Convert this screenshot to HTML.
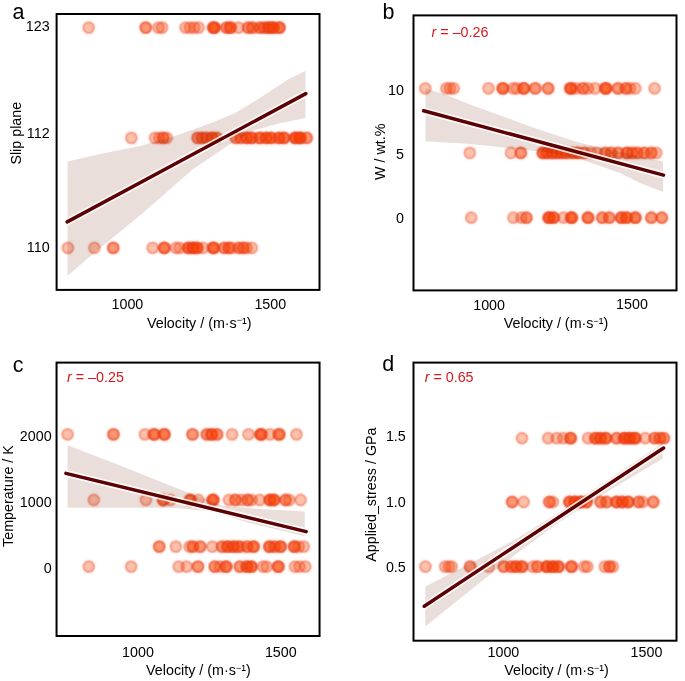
<!DOCTYPE html>
<html><head><meta charset="utf-8"><title>Velocity correlations</title>
<style>
html,body{margin:0;padding:0;background:#fff;}
body{width:685px;height:681px;overflow:hidden;}
svg{display:block;}
text{font-family:"Liberation Sans", Arial, sans-serif;fill:#000;}
.let{font-size:21.5px;}
.tk{font-size:14.3px;}
.ax{font-size:14.3px;}
.sup{font-size:9px;}
.rv{font-size:14.3px;fill:#d7191c;}
.pts circle{fill:rgb(248,66,0);fill-opacity:0.32;stroke:rgb(230,58,18);stroke-opacity:0.42;stroke-width:2.0;}
.band{fill:rgb(105,20,0);fill-opacity:0.14;stroke:none;}
.halo{stroke:#fff;stroke-opacity:0.8;stroke-width:7;stroke-linecap:round;}
.reg{stroke:#5c0003;stroke-width:3.5;stroke-linecap:round;}
.box{fill:none;stroke:#000;stroke-width:2;}
</style></head>
<body>
<svg width="685" height="681" viewBox="0 0 685 681">
<defs><filter id="bl" x="-5%" y="-50%" width="110%" height="200%"><feGaussianBlur in="SourceGraphic" stdDeviation="0.9" result="b"/><feComposite in="SourceGraphic" in2="b" operator="arithmetic" k1="0" k2="0.45" k3="0.55" k4="0"/></filter></defs>
<rect width="685" height="681" fill="#fff"/>
<g class="pts" filter="url(#bl)">
<circle cx="88.7" cy="27.6" r="5.4"/>
<circle cx="145.5" cy="27.6" r="5.4"/>
<circle cx="146.0" cy="27.6" r="5.4"/>
<circle cx="158.5" cy="27.6" r="5.4"/>
<circle cx="162.1" cy="27.6" r="5.4"/>
<circle cx="185.5" cy="27.6" r="5.4"/>
<circle cx="189.9" cy="27.6" r="5.4"/>
<circle cx="194.2" cy="27.6" r="5.4"/>
<circle cx="198.6" cy="27.6" r="5.4"/>
<circle cx="213.9" cy="27.6" r="5.4"/>
<circle cx="214.4" cy="27.6" r="5.4"/>
<circle cx="213.4" cy="27.6" r="5.4"/>
<circle cx="214.9" cy="27.6" r="5.4"/>
<circle cx="212.9" cy="27.6" r="5.4"/>
<circle cx="226.4" cy="27.6" r="5.4"/>
<circle cx="226.9" cy="27.6" r="5.4"/>
<circle cx="230.4" cy="27.6" r="5.4"/>
<circle cx="230.9" cy="27.6" r="5.4"/>
<circle cx="229.9" cy="27.6" r="5.4"/>
<circle cx="238.5" cy="27.6" r="5.4"/>
<circle cx="248.0" cy="27.6" r="5.4"/>
<circle cx="248.5" cy="27.6" r="5.4"/>
<circle cx="252.3" cy="27.6" r="5.4"/>
<circle cx="252.8" cy="27.6" r="5.4"/>
<circle cx="259.6" cy="27.6" r="5.4"/>
<circle cx="260.1" cy="27.6" r="5.4"/>
<circle cx="264.0" cy="27.6" r="5.4"/>
<circle cx="264.5" cy="27.6" r="5.4"/>
<circle cx="268.4" cy="27.6" r="5.4"/>
<circle cx="268.9" cy="27.6" r="5.4"/>
<circle cx="267.9" cy="27.6" r="5.4"/>
<circle cx="269.4" cy="27.6" r="5.4"/>
<circle cx="272.8" cy="27.6" r="5.4"/>
<circle cx="273.3" cy="27.6" r="5.4"/>
<circle cx="272.3" cy="27.6" r="5.4"/>
<circle cx="273.8" cy="27.6" r="5.4"/>
<circle cx="279.3" cy="27.6" r="5.4"/>
<circle cx="279.8" cy="27.6" r="5.4"/>
<circle cx="278.8" cy="27.6" r="5.4"/>
<circle cx="131.4" cy="137.9" r="5.4"/>
<circle cx="155.0" cy="137.9" r="5.4"/>
<circle cx="159.4" cy="137.9" r="5.4"/>
<circle cx="163.0" cy="137.9" r="5.4"/>
<circle cx="163.5" cy="137.9" r="5.4"/>
<circle cx="166.7" cy="137.9" r="5.4"/>
<circle cx="197.4" cy="137.9" r="5.4"/>
<circle cx="197.9" cy="137.9" r="5.4"/>
<circle cx="201.8" cy="137.9" r="5.4"/>
<circle cx="202.3" cy="137.9" r="5.4"/>
<circle cx="206.1" cy="137.9" r="5.4"/>
<circle cx="206.6" cy="137.9" r="5.4"/>
<circle cx="212.0" cy="137.9" r="5.4"/>
<circle cx="212.5" cy="137.9" r="5.4"/>
<circle cx="211.5" cy="137.9" r="5.4"/>
<circle cx="216.4" cy="137.9" r="5.4"/>
<circle cx="216.9" cy="137.9" r="5.4"/>
<circle cx="235.7" cy="137.9" r="5.4"/>
<circle cx="236.2" cy="137.9" r="5.4"/>
<circle cx="240.5" cy="137.9" r="5.4"/>
<circle cx="241.0" cy="137.9" r="5.4"/>
<circle cx="247.0" cy="137.9" r="5.4"/>
<circle cx="247.5" cy="137.9" r="5.4"/>
<circle cx="246.5" cy="137.9" r="5.4"/>
<circle cx="251.8" cy="137.9" r="5.4"/>
<circle cx="252.3" cy="137.9" r="5.4"/>
<circle cx="251.3" cy="137.9" r="5.4"/>
<circle cx="259.8" cy="137.9" r="5.4"/>
<circle cx="260.3" cy="137.9" r="5.4"/>
<circle cx="259.3" cy="137.9" r="5.4"/>
<circle cx="266.2" cy="137.9" r="5.4"/>
<circle cx="266.7" cy="137.9" r="5.4"/>
<circle cx="265.7" cy="137.9" r="5.4"/>
<circle cx="271.0" cy="137.9" r="5.4"/>
<circle cx="271.5" cy="137.9" r="5.4"/>
<circle cx="270.5" cy="137.9" r="5.4"/>
<circle cx="279.0" cy="137.9" r="5.4"/>
<circle cx="279.5" cy="137.9" r="5.4"/>
<circle cx="278.5" cy="137.9" r="5.4"/>
<circle cx="283.9" cy="137.9" r="5.4"/>
<circle cx="284.4" cy="137.9" r="5.4"/>
<circle cx="283.4" cy="137.9" r="5.4"/>
<circle cx="295.1" cy="137.9" r="5.4"/>
<circle cx="295.6" cy="137.9" r="5.4"/>
<circle cx="294.6" cy="137.9" r="5.4"/>
<circle cx="296.1" cy="137.9" r="5.4"/>
<circle cx="299.9" cy="137.9" r="5.4"/>
<circle cx="300.4" cy="137.9" r="5.4"/>
<circle cx="299.4" cy="137.9" r="5.4"/>
<circle cx="300.9" cy="137.9" r="5.4"/>
<circle cx="298.9" cy="137.9" r="5.4"/>
<circle cx="306.4" cy="137.9" r="5.4"/>
<circle cx="306.9" cy="137.9" r="5.4"/>
<circle cx="67.9" cy="247.9" r="5.4"/>
<circle cx="94.4" cy="247.9" r="5.4"/>
<circle cx="113.0" cy="247.9" r="5.4"/>
<circle cx="113.5" cy="247.9" r="5.4"/>
<circle cx="152.6" cy="247.9" r="5.4"/>
<circle cx="164.3" cy="247.9" r="5.4"/>
<circle cx="164.8" cy="247.9" r="5.4"/>
<circle cx="163.8" cy="247.9" r="5.4"/>
<circle cx="176.0" cy="247.9" r="5.4"/>
<circle cx="179.6" cy="247.9" r="5.4"/>
<circle cx="188.4" cy="247.9" r="5.4"/>
<circle cx="188.9" cy="247.9" r="5.4"/>
<circle cx="187.9" cy="247.9" r="5.4"/>
<circle cx="192.8" cy="247.9" r="5.4"/>
<circle cx="193.3" cy="247.9" r="5.4"/>
<circle cx="192.3" cy="247.9" r="5.4"/>
<circle cx="193.8" cy="247.9" r="5.4"/>
<circle cx="197.2" cy="247.9" r="5.4"/>
<circle cx="197.7" cy="247.9" r="5.4"/>
<circle cx="196.7" cy="247.9" r="5.4"/>
<circle cx="203.0" cy="247.9" r="5.4"/>
<circle cx="213.2" cy="247.9" r="5.4"/>
<circle cx="213.7" cy="247.9" r="5.4"/>
<circle cx="212.7" cy="247.9" r="5.4"/>
<circle cx="214.2" cy="247.9" r="5.4"/>
<circle cx="224.1" cy="247.9" r="5.4"/>
<circle cx="224.6" cy="247.9" r="5.4"/>
<circle cx="228.5" cy="247.9" r="5.4"/>
<circle cx="229.0" cy="247.9" r="5.4"/>
<circle cx="231.4" cy="247.9" r="5.4"/>
<circle cx="238.7" cy="247.9" r="5.4"/>
<circle cx="239.2" cy="247.9" r="5.4"/>
<circle cx="243.1" cy="247.9" r="5.4"/>
<circle cx="243.6" cy="247.9" r="5.4"/>
<circle cx="246.7" cy="247.9" r="5.4"/>
<circle cx="251.8" cy="247.9" r="5.4"/>
</g>
<polygon class="band" points="67.5,161.5 100.0,154.0 140.0,146.0 175.0,136.0 200.0,127.1 217.5,120.5 235.0,113.0 252.6,102.6 270.0,91.2 287.6,79.8 305.5,70.8 305.5,118.0 278.8,123.6 252.6,130.5 229.3,144.7 192.5,169.6 140.0,215.6 100.0,248.0 67.5,275.7"/>
<g><line class="halo" x1="67.2" y1="221.9" x2="305.8" y2="93.6"/>
<line class="reg" x1="67.2" y1="221.9" x2="305.8" y2="93.6"/></g>
<rect class="box" x="56.6" y="14.0" width="262.9" height="275.9"/>
<g class="pts" filter="url(#bl)">
<circle cx="425.3" cy="88.4" r="5.4"/>
<circle cx="446.4" cy="88.4" r="5.4"/>
<circle cx="450.0" cy="88.4" r="5.4"/>
<circle cx="453.7" cy="88.4" r="5.4"/>
<circle cx="488.5" cy="88.4" r="5.4"/>
<circle cx="502.9" cy="88.4" r="5.4"/>
<circle cx="503.4" cy="88.4" r="5.4"/>
<circle cx="502.4" cy="88.4" r="5.4"/>
<circle cx="513.4" cy="88.4" r="5.4"/>
<circle cx="516.6" cy="88.4" r="5.4"/>
<circle cx="523.8" cy="88.4" r="5.4"/>
<circle cx="524.3" cy="88.4" r="5.4"/>
<circle cx="523.3" cy="88.4" r="5.4"/>
<circle cx="535.0" cy="88.4" r="5.4"/>
<circle cx="535.5" cy="88.4" r="5.4"/>
<circle cx="547.9" cy="88.4" r="5.4"/>
<circle cx="548.4" cy="88.4" r="5.4"/>
<circle cx="570.5" cy="88.4" r="5.4"/>
<circle cx="571.0" cy="88.4" r="5.4"/>
<circle cx="570.0" cy="88.4" r="5.4"/>
<circle cx="571.5" cy="88.4" r="5.4"/>
<circle cx="576.0" cy="88.4" r="5.4"/>
<circle cx="582.8" cy="88.4" r="5.4"/>
<circle cx="583.3" cy="88.4" r="5.4"/>
<circle cx="588.0" cy="88.4" r="5.4"/>
<circle cx="595.0" cy="88.4" r="5.4"/>
<circle cx="605.5" cy="88.4" r="5.4"/>
<circle cx="606.0" cy="88.4" r="5.4"/>
<circle cx="605.0" cy="88.4" r="5.4"/>
<circle cx="606.5" cy="88.4" r="5.4"/>
<circle cx="617.8" cy="88.4" r="5.4"/>
<circle cx="618.3" cy="88.4" r="5.4"/>
<circle cx="625.7" cy="88.4" r="5.4"/>
<circle cx="626.2" cy="88.4" r="5.4"/>
<circle cx="630.0" cy="88.4" r="5.4"/>
<circle cx="635.3" cy="88.4" r="5.4"/>
<circle cx="654.6" cy="88.4" r="5.4"/>
<circle cx="469.8" cy="152.9" r="5.4"/>
<circle cx="511.0" cy="152.9" r="5.4"/>
<circle cx="520.6" cy="152.9" r="5.4"/>
<circle cx="521.1" cy="152.9" r="5.4"/>
<circle cx="543.0" cy="152.9" r="5.4"/>
<circle cx="543.5" cy="152.9" r="5.4"/>
<circle cx="542.5" cy="152.9" r="5.4"/>
<circle cx="547.0" cy="152.9" r="5.4"/>
<circle cx="547.5" cy="152.9" r="5.4"/>
<circle cx="546.5" cy="152.9" r="5.4"/>
<circle cx="552.0" cy="152.9" r="5.4"/>
<circle cx="552.5" cy="152.9" r="5.4"/>
<circle cx="551.5" cy="152.9" r="5.4"/>
<circle cx="556.7" cy="152.9" r="5.4"/>
<circle cx="557.2" cy="152.9" r="5.4"/>
<circle cx="556.2" cy="152.9" r="5.4"/>
<circle cx="561.5" cy="152.9" r="5.4"/>
<circle cx="562.0" cy="152.9" r="5.4"/>
<circle cx="561.0" cy="152.9" r="5.4"/>
<circle cx="566.4" cy="152.9" r="5.4"/>
<circle cx="566.9" cy="152.9" r="5.4"/>
<circle cx="565.9" cy="152.9" r="5.4"/>
<circle cx="572.8" cy="152.9" r="5.4"/>
<circle cx="573.3" cy="152.9" r="5.4"/>
<circle cx="572.3" cy="152.9" r="5.4"/>
<circle cx="577.6" cy="152.9" r="5.4"/>
<circle cx="578.1" cy="152.9" r="5.4"/>
<circle cx="577.1" cy="152.9" r="5.4"/>
<circle cx="584.0" cy="152.9" r="5.4"/>
<circle cx="584.5" cy="152.9" r="5.4"/>
<circle cx="591.0" cy="152.9" r="5.4"/>
<circle cx="597.0" cy="152.9" r="5.4"/>
<circle cx="605.0" cy="152.9" r="5.4"/>
<circle cx="605.5" cy="152.9" r="5.4"/>
<circle cx="611.0" cy="152.9" r="5.4"/>
<circle cx="611.5" cy="152.9" r="5.4"/>
<circle cx="618.0" cy="152.9" r="5.4"/>
<circle cx="618.5" cy="152.9" r="5.4"/>
<circle cx="627.0" cy="152.9" r="5.4"/>
<circle cx="627.5" cy="152.9" r="5.4"/>
<circle cx="626.5" cy="152.9" r="5.4"/>
<circle cx="632.0" cy="152.9" r="5.4"/>
<circle cx="632.5" cy="152.9" r="5.4"/>
<circle cx="637.0" cy="152.9" r="5.4"/>
<circle cx="637.5" cy="152.9" r="5.4"/>
<circle cx="644.0" cy="152.9" r="5.4"/>
<circle cx="644.5" cy="152.9" r="5.4"/>
<circle cx="651.0" cy="152.9" r="5.4"/>
<circle cx="651.5" cy="152.9" r="5.4"/>
<circle cx="656.4" cy="152.9" r="5.4"/>
<circle cx="471.2" cy="217.7" r="5.4"/>
<circle cx="513.4" cy="217.7" r="5.4"/>
<circle cx="521.4" cy="217.7" r="5.4"/>
<circle cx="526.2" cy="217.7" r="5.4"/>
<circle cx="526.7" cy="217.7" r="5.4"/>
<circle cx="548.7" cy="217.7" r="5.4"/>
<circle cx="549.2" cy="217.7" r="5.4"/>
<circle cx="548.2" cy="217.7" r="5.4"/>
<circle cx="549.7" cy="217.7" r="5.4"/>
<circle cx="553.5" cy="217.7" r="5.4"/>
<circle cx="554.0" cy="217.7" r="5.4"/>
<circle cx="553.0" cy="217.7" r="5.4"/>
<circle cx="563.5" cy="217.7" r="5.4"/>
<circle cx="571.3" cy="217.7" r="5.4"/>
<circle cx="571.8" cy="217.7" r="5.4"/>
<circle cx="570.8" cy="217.7" r="5.4"/>
<circle cx="572.3" cy="217.7" r="5.4"/>
<circle cx="588.0" cy="217.7" r="5.4"/>
<circle cx="588.5" cy="217.7" r="5.4"/>
<circle cx="587.5" cy="217.7" r="5.4"/>
<circle cx="602.0" cy="217.7" r="5.4"/>
<circle cx="602.5" cy="217.7" r="5.4"/>
<circle cx="609.0" cy="217.7" r="5.4"/>
<circle cx="609.5" cy="217.7" r="5.4"/>
<circle cx="621.3" cy="217.7" r="5.4"/>
<circle cx="621.8" cy="217.7" r="5.4"/>
<circle cx="620.8" cy="217.7" r="5.4"/>
<circle cx="626.6" cy="217.7" r="5.4"/>
<circle cx="627.1" cy="217.7" r="5.4"/>
<circle cx="626.1" cy="217.7" r="5.4"/>
<circle cx="635.3" cy="217.7" r="5.4"/>
<circle cx="635.8" cy="217.7" r="5.4"/>
<circle cx="634.8" cy="217.7" r="5.4"/>
<circle cx="651.1" cy="217.7" r="5.4"/>
<circle cx="651.6" cy="217.7" r="5.4"/>
<circle cx="661.6" cy="217.7" r="5.4"/>
<circle cx="662.1" cy="217.7" r="5.4"/>
</g>
<polygon class="band" points="425.5,88.3 451.5,97.0 470.0,104.4 535.7,128.5 579.5,142.7 620.0,152.0 663.0,161.5 663.0,192.0 640.0,183.0 620.0,173.0 580.0,159.0 545.0,151.9 490.0,146.1 470.0,144.0 425.5,141.3"/>
<g><line class="halo" x1="423.6" y1="110.8" x2="663.5" y2="175.1"/>
<line class="reg" x1="423.6" y1="110.8" x2="663.5" y2="175.1"/></g>
<rect class="box" x="413.5" y="15.4" width="263.0" height="275.0"/>
<g class="pts" filter="url(#bl)">
<circle cx="67.6" cy="434.4" r="5.4"/>
<circle cx="113.2" cy="434.4" r="5.4"/>
<circle cx="113.7" cy="434.4" r="5.4"/>
<circle cx="144.9" cy="434.4" r="5.4"/>
<circle cx="154.1" cy="434.4" r="5.4"/>
<circle cx="154.6" cy="434.4" r="5.4"/>
<circle cx="153.6" cy="434.4" r="5.4"/>
<circle cx="164.3" cy="434.4" r="5.4"/>
<circle cx="164.8" cy="434.4" r="5.4"/>
<circle cx="163.8" cy="434.4" r="5.4"/>
<circle cx="192.3" cy="434.4" r="5.4"/>
<circle cx="192.8" cy="434.4" r="5.4"/>
<circle cx="206.6" cy="434.4" r="5.4"/>
<circle cx="207.1" cy="434.4" r="5.4"/>
<circle cx="211.7" cy="434.4" r="5.4"/>
<circle cx="212.2" cy="434.4" r="5.4"/>
<circle cx="211.2" cy="434.4" r="5.4"/>
<circle cx="216.8" cy="434.4" r="5.4"/>
<circle cx="217.3" cy="434.4" r="5.4"/>
<circle cx="232.1" cy="434.4" r="5.4"/>
<circle cx="248.5" cy="434.4" r="5.4"/>
<circle cx="260.7" cy="434.4" r="5.4"/>
<circle cx="261.2" cy="434.4" r="5.4"/>
<circle cx="260.2" cy="434.4" r="5.4"/>
<circle cx="261.7" cy="434.4" r="5.4"/>
<circle cx="269.9" cy="434.4" r="5.4"/>
<circle cx="279.1" cy="434.4" r="5.4"/>
<circle cx="279.6" cy="434.4" r="5.4"/>
<circle cx="278.6" cy="434.4" r="5.4"/>
<circle cx="296.5" cy="434.4" r="5.4"/>
<circle cx="93.8" cy="500.0" r="5.4"/>
<circle cx="145.9" cy="500.0" r="5.4"/>
<circle cx="163.3" cy="500.0" r="5.4"/>
<circle cx="163.8" cy="500.0" r="5.4"/>
<circle cx="162.8" cy="500.0" r="5.4"/>
<circle cx="170.4" cy="500.0" r="5.4"/>
<circle cx="190.2" cy="500.0" r="5.4"/>
<circle cx="190.7" cy="500.0" r="5.4"/>
<circle cx="189.7" cy="500.0" r="5.4"/>
<circle cx="198.4" cy="500.0" r="5.4"/>
<circle cx="212.7" cy="500.0" r="5.4"/>
<circle cx="213.2" cy="500.0" r="5.4"/>
<circle cx="212.2" cy="500.0" r="5.4"/>
<circle cx="213.7" cy="500.0" r="5.4"/>
<circle cx="229.0" cy="500.0" r="5.4"/>
<circle cx="235.2" cy="500.0" r="5.4"/>
<circle cx="235.7" cy="500.0" r="5.4"/>
<circle cx="241.3" cy="500.0" r="5.4"/>
<circle cx="247.4" cy="500.0" r="5.4"/>
<circle cx="247.9" cy="500.0" r="5.4"/>
<circle cx="251.5" cy="500.0" r="5.4"/>
<circle cx="259.7" cy="500.0" r="5.4"/>
<circle cx="269.9" cy="500.0" r="5.4"/>
<circle cx="270.4" cy="500.0" r="5.4"/>
<circle cx="269.4" cy="500.0" r="5.4"/>
<circle cx="274.0" cy="500.0" r="5.4"/>
<circle cx="274.5" cy="500.0" r="5.4"/>
<circle cx="273.5" cy="500.0" r="5.4"/>
<circle cx="285.3" cy="500.0" r="5.4"/>
<circle cx="285.8" cy="500.0" r="5.4"/>
<circle cx="289.3" cy="500.0" r="5.4"/>
<circle cx="300.6" cy="500.0" r="5.4"/>
<circle cx="159.0" cy="546.6" r="5.4"/>
<circle cx="159.5" cy="546.6" r="5.4"/>
<circle cx="175.8" cy="546.6" r="5.4"/>
<circle cx="189.6" cy="546.6" r="5.4"/>
<circle cx="192.6" cy="546.6" r="5.4"/>
<circle cx="193.1" cy="546.6" r="5.4"/>
<circle cx="199.9" cy="546.6" r="5.4"/>
<circle cx="200.4" cy="546.6" r="5.4"/>
<circle cx="212.3" cy="546.6" r="5.4"/>
<circle cx="221.8" cy="546.6" r="5.4"/>
<circle cx="222.3" cy="546.6" r="5.4"/>
<circle cx="227.6" cy="546.6" r="5.4"/>
<circle cx="228.1" cy="546.6" r="5.4"/>
<circle cx="227.1" cy="546.6" r="5.4"/>
<circle cx="233.4" cy="546.6" r="5.4"/>
<circle cx="233.9" cy="546.6" r="5.4"/>
<circle cx="232.9" cy="546.6" r="5.4"/>
<circle cx="237.8" cy="546.6" r="5.4"/>
<circle cx="238.3" cy="546.6" r="5.4"/>
<circle cx="241.1" cy="546.6" r="5.4"/>
<circle cx="246.9" cy="546.6" r="5.4"/>
<circle cx="247.4" cy="546.6" r="5.4"/>
<circle cx="253.5" cy="546.6" r="5.4"/>
<circle cx="254.0" cy="546.6" r="5.4"/>
<circle cx="253.0" cy="546.6" r="5.4"/>
<circle cx="269.5" cy="546.6" r="5.4"/>
<circle cx="270.0" cy="546.6" r="5.4"/>
<circle cx="269.0" cy="546.6" r="5.4"/>
<circle cx="274.6" cy="546.6" r="5.4"/>
<circle cx="275.1" cy="546.6" r="5.4"/>
<circle cx="280.5" cy="546.6" r="5.4"/>
<circle cx="281.0" cy="546.6" r="5.4"/>
<circle cx="280.0" cy="546.6" r="5.4"/>
<circle cx="294.3" cy="546.6" r="5.4"/>
<circle cx="294.8" cy="546.6" r="5.4"/>
<circle cx="293.8" cy="546.6" r="5.4"/>
<circle cx="298.7" cy="546.6" r="5.4"/>
<circle cx="303.8" cy="546.6" r="5.4"/>
<circle cx="88.8" cy="566.6" r="5.4"/>
<circle cx="131.2" cy="566.6" r="5.4"/>
<circle cx="178.7" cy="566.6" r="5.4"/>
<circle cx="186.7" cy="566.6" r="5.4"/>
<circle cx="197.7" cy="566.6" r="5.4"/>
<circle cx="198.2" cy="566.6" r="5.4"/>
<circle cx="214.5" cy="566.6" r="5.4"/>
<circle cx="215.0" cy="566.6" r="5.4"/>
<circle cx="220.0" cy="566.6" r="5.4"/>
<circle cx="226.1" cy="566.6" r="5.4"/>
<circle cx="226.6" cy="566.6" r="5.4"/>
<circle cx="225.6" cy="566.6" r="5.4"/>
<circle cx="239.6" cy="566.6" r="5.4"/>
<circle cx="240.1" cy="566.6" r="5.4"/>
<circle cx="246.9" cy="566.6" r="5.4"/>
<circle cx="247.4" cy="566.6" r="5.4"/>
<circle cx="246.4" cy="566.6" r="5.4"/>
<circle cx="251.3" cy="566.6" r="5.4"/>
<circle cx="251.8" cy="566.6" r="5.4"/>
<circle cx="250.8" cy="566.6" r="5.4"/>
<circle cx="263.0" cy="566.6" r="5.4"/>
<circle cx="266.6" cy="566.6" r="5.4"/>
<circle cx="278.3" cy="566.6" r="5.4"/>
<circle cx="278.8" cy="566.6" r="5.4"/>
<circle cx="277.8" cy="566.6" r="5.4"/>
<circle cx="295.0" cy="566.6" r="5.4"/>
<circle cx="299.5" cy="566.6" r="5.4"/>
<circle cx="305.3" cy="566.6" r="5.4"/>
</g>
<polygon class="band" points="67.6,445.2 116.9,464.2 173.9,486.9 192.8,494.5 223.2,505.9 260.0,509.0 304.8,511.6 304.8,536.3 249.8,523.0 211.8,511.6 173.9,507.8 67.6,507.8"/>
<g><line class="halo" x1="65.9" y1="473.4" x2="306.2" y2="531.6"/>
<line class="reg" x1="65.9" y1="473.4" x2="306.2" y2="531.6"/></g>
<rect class="box" x="56.55" y="362.6" width="263.0" height="273.4"/>
<g class="pts" filter="url(#bl)">
<circle cx="522.0" cy="438.2" r="5.4"/>
<circle cx="548.2" cy="438.2" r="5.4"/>
<circle cx="556.7" cy="438.2" r="5.4"/>
<circle cx="563.3" cy="438.2" r="5.4"/>
<circle cx="570.6" cy="438.2" r="5.4"/>
<circle cx="571.1" cy="438.2" r="5.4"/>
<circle cx="570.1" cy="438.2" r="5.4"/>
<circle cx="588.1" cy="438.2" r="5.4"/>
<circle cx="595.5" cy="438.2" r="5.4"/>
<circle cx="596.0" cy="438.2" r="5.4"/>
<circle cx="595.0" cy="438.2" r="5.4"/>
<circle cx="600.5" cy="438.2" r="5.4"/>
<circle cx="601.0" cy="438.2" r="5.4"/>
<circle cx="600.0" cy="438.2" r="5.4"/>
<circle cx="605.8" cy="438.2" r="5.4"/>
<circle cx="606.3" cy="438.2" r="5.4"/>
<circle cx="605.3" cy="438.2" r="5.4"/>
<circle cx="616.3" cy="438.2" r="5.4"/>
<circle cx="616.8" cy="438.2" r="5.4"/>
<circle cx="624.2" cy="438.2" r="5.4"/>
<circle cx="624.7" cy="438.2" r="5.4"/>
<circle cx="623.7" cy="438.2" r="5.4"/>
<circle cx="625.2" cy="438.2" r="5.4"/>
<circle cx="629.4" cy="438.2" r="5.4"/>
<circle cx="629.9" cy="438.2" r="5.4"/>
<circle cx="628.9" cy="438.2" r="5.4"/>
<circle cx="630.4" cy="438.2" r="5.4"/>
<circle cx="634.7" cy="438.2" r="5.4"/>
<circle cx="635.2" cy="438.2" r="5.4"/>
<circle cx="634.2" cy="438.2" r="5.4"/>
<circle cx="635.7" cy="438.2" r="5.4"/>
<circle cx="645.2" cy="438.2" r="5.4"/>
<circle cx="654.4" cy="438.2" r="5.4"/>
<circle cx="654.9" cy="438.2" r="5.4"/>
<circle cx="659.6" cy="438.2" r="5.4"/>
<circle cx="660.1" cy="438.2" r="5.4"/>
<circle cx="663.6" cy="438.2" r="5.4"/>
<circle cx="664.1" cy="438.2" r="5.4"/>
<circle cx="511.9" cy="502.0" r="5.4"/>
<circle cx="512.4" cy="502.0" r="5.4"/>
<circle cx="523.6" cy="502.0" r="5.4"/>
<circle cx="549.1" cy="502.0" r="5.4"/>
<circle cx="549.6" cy="502.0" r="5.4"/>
<circle cx="552.8" cy="502.0" r="5.4"/>
<circle cx="569.6" cy="502.0" r="5.4"/>
<circle cx="570.1" cy="502.0" r="5.4"/>
<circle cx="569.1" cy="502.0" r="5.4"/>
<circle cx="574.7" cy="502.0" r="5.4"/>
<circle cx="575.2" cy="502.0" r="5.4"/>
<circle cx="574.2" cy="502.0" r="5.4"/>
<circle cx="575.7" cy="502.0" r="5.4"/>
<circle cx="580.5" cy="502.0" r="5.4"/>
<circle cx="581.0" cy="502.0" r="5.4"/>
<circle cx="580.0" cy="502.0" r="5.4"/>
<circle cx="581.5" cy="502.0" r="5.4"/>
<circle cx="586.4" cy="502.0" r="5.4"/>
<circle cx="586.9" cy="502.0" r="5.4"/>
<circle cx="585.9" cy="502.0" r="5.4"/>
<circle cx="600.4" cy="502.0" r="5.4"/>
<circle cx="600.9" cy="502.0" r="5.4"/>
<circle cx="606.3" cy="502.0" r="5.4"/>
<circle cx="606.8" cy="502.0" r="5.4"/>
<circle cx="616.5" cy="502.0" r="5.4"/>
<circle cx="617.0" cy="502.0" r="5.4"/>
<circle cx="616.0" cy="502.0" r="5.4"/>
<circle cx="622.3" cy="502.0" r="5.4"/>
<circle cx="622.8" cy="502.0" r="5.4"/>
<circle cx="621.8" cy="502.0" r="5.4"/>
<circle cx="628.2" cy="502.0" r="5.4"/>
<circle cx="628.7" cy="502.0" r="5.4"/>
<circle cx="627.7" cy="502.0" r="5.4"/>
<circle cx="638.4" cy="502.0" r="5.4"/>
<circle cx="638.9" cy="502.0" r="5.4"/>
<circle cx="642.8" cy="502.0" r="5.4"/>
<circle cx="653.0" cy="502.0" r="5.4"/>
<circle cx="653.5" cy="502.0" r="5.4"/>
<circle cx="425.4" cy="566.6" r="5.4"/>
<circle cx="445.1" cy="566.6" r="5.4"/>
<circle cx="448.8" cy="566.6" r="5.4"/>
<circle cx="451.7" cy="566.6" r="5.4"/>
<circle cx="469.9" cy="566.6" r="5.4"/>
<circle cx="470.4" cy="566.6" r="5.4"/>
<circle cx="488.9" cy="566.6" r="5.4"/>
<circle cx="503.5" cy="566.6" r="5.4"/>
<circle cx="504.0" cy="566.6" r="5.4"/>
<circle cx="510.8" cy="566.6" r="5.4"/>
<circle cx="511.3" cy="566.6" r="5.4"/>
<circle cx="516.0" cy="566.6" r="5.4"/>
<circle cx="516.5" cy="566.6" r="5.4"/>
<circle cx="515.5" cy="566.6" r="5.4"/>
<circle cx="521.9" cy="566.6" r="5.4"/>
<circle cx="522.4" cy="566.6" r="5.4"/>
<circle cx="521.4" cy="566.6" r="5.4"/>
<circle cx="532.8" cy="566.6" r="5.4"/>
<circle cx="537.2" cy="566.6" r="5.4"/>
<circle cx="537.7" cy="566.6" r="5.4"/>
<circle cx="546.7" cy="566.6" r="5.4"/>
<circle cx="547.2" cy="566.6" r="5.4"/>
<circle cx="546.2" cy="566.6" r="5.4"/>
<circle cx="547.7" cy="566.6" r="5.4"/>
<circle cx="552.6" cy="566.6" r="5.4"/>
<circle cx="553.1" cy="566.6" r="5.4"/>
<circle cx="552.1" cy="566.6" r="5.4"/>
<circle cx="553.6" cy="566.6" r="5.4"/>
<circle cx="558.4" cy="566.6" r="5.4"/>
<circle cx="558.9" cy="566.6" r="5.4"/>
<circle cx="557.9" cy="566.6" r="5.4"/>
<circle cx="571.5" cy="566.6" r="5.4"/>
<circle cx="572.0" cy="566.6" r="5.4"/>
<circle cx="571.0" cy="566.6" r="5.4"/>
<circle cx="584.4" cy="566.6" r="5.4"/>
<circle cx="587.3" cy="566.6" r="5.4"/>
<circle cx="604.8" cy="566.6" r="5.4"/>
<circle cx="609.2" cy="566.6" r="5.4"/>
<circle cx="609.7" cy="566.6" r="5.4"/>
<circle cx="612.8" cy="566.6" r="5.4"/>
</g>
<polygon class="band" points="425.3,586.5 470.0,563.4 515.0,539.7 560.0,511.7 610.0,478.6 662.6,443.2 662.6,458.7 610.0,489.9 560.0,521.5 515.0,554.7 470.0,590.4 425.3,626.5"/>
<g><line class="halo" x1="424.2" y1="606.2" x2="663.6" y2="448"/>
<line class="reg" x1="424.2" y1="606.2" x2="663.6" y2="448"/></g>
<rect class="box" x="413.5" y="362.6" width="263.0" height="278.1"/>
<text x="12.6" y="18.9" class="let">a</text>
<text x="382.6" y="19" class="let">b</text>
<text x="12.8" y="371.7" class="let">c</text>
<text x="382.3" y="371" class="let">d</text>
<text x="49.6" y="30.55" text-anchor="end" class="tk">123</text>
<text x="49.6" y="138.15" text-anchor="end" class="tk">112</text>
<text x="49.6" y="252.45" text-anchor="end" class="tk">110</text>
<text x="403.9" y="94.9" text-anchor="end" class="tk">10</text>
<text x="403.9" y="158.85" text-anchor="end" class="tk">5</text>
<text x="403.9" y="222.85" text-anchor="end" class="tk">0</text>
<text x="51.6" y="440.9" text-anchor="end" class="tk">2000</text>
<text x="51.6" y="506.75" text-anchor="end" class="tk">1000</text>
<text x="51.6" y="572.6" text-anchor="end" class="tk">0</text>
<text x="405.8" y="440.6" text-anchor="end" class="tk">1.5</text>
<text x="405.8" y="506.5" text-anchor="end" class="tk">1.0</text>
<text x="405.8" y="571.95" text-anchor="end" class="tk">0.5</text>
<text x="127.4" y="309.2" text-anchor="middle" class="tk">1000</text>
<text x="270.3" y="309.2" text-anchor="middle" class="tk">1500</text>
<text x="489.1" y="309.5" text-anchor="middle" class="tk">1000</text>
<text x="632.0" y="309.2" text-anchor="middle" class="tk">1500</text>
<text x="138.0" y="657.4" text-anchor="middle" class="tk">1000</text>
<text x="280.8" y="657.4" text-anchor="middle" class="tk">1500</text>
<text x="503.4" y="656.7" text-anchor="middle" class="tk">1000</text>
<text x="646.5" y="656.6" text-anchor="middle" class="tk">1500</text>
<text x="147.0" y="327.5" class="ax">Velocity / (m·s<tspan class="sup" dy="-4.2">−</tspan><tspan dy="4.2">¹)</tspan></text>
<text x="503.7" y="328.3" class="ax">Velocity / (m·s<tspan class="sup" dy="-4.2">−</tspan><tspan dy="4.2">¹)</tspan></text>
<text x="146.1" y="675.3" class="ax">Velocity / (m·s<tspan class="sup" dy="-4.2">−</tspan><tspan dy="4.2">¹)</tspan></text>
<text x="504.3" y="675.3" class="ax">Velocity / (m·s<tspan class="sup" dy="-4.2">−</tspan><tspan dy="4.2">¹)</tspan></text>
<text class="ax" transform="translate(20.6,164.6) rotate(-90)">Slip plane</text>
<text class="ax" transform="translate(384.6,180.0) rotate(-90)">W / wt.%</text>
<text class="ax" transform="translate(12.8,546.9) rotate(-90)">Temperature / K</text>
<text class="ax" transform="translate(375.6,561.8) rotate(-90)">Applied_stress / GPa</text>
<text class="rv" x="431.6" y="37.2"><tspan font-style="italic">r</tspan> = –0.26</text>
<text class="rv" x="67.0" y="381.7"><tspan font-style="italic">r</tspan> = –0.25</text>
<text class="rv" x="424.7" y="382.0"><tspan font-style="italic">r</tspan> = 0.65</text>
</svg>
</body></html>
